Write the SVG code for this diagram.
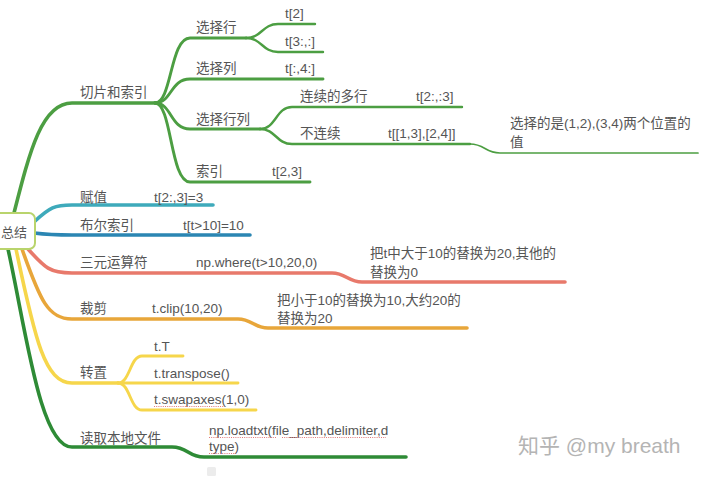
<svg xmlns="http://www.w3.org/2000/svg" width="720" height="478" viewBox="0 0 720 478">
<style>
text{font-family:"Liberation Sans","Noto Sans CJK SC",sans-serif;font-size:13.5px;fill:#555}
.c{fill:none;stroke-linecap:round;stroke-linejoin:round}
.g{stroke:#4c9e42}
.m{stroke-width:3.6}
.s{stroke-width:2.9}
.l{stroke-width:2.4}
.sq{stroke:#e07a7a;stroke-width:1;stroke-dasharray:1 1.2;fill:none}
</style>
<rect width="720" height="478" fill="#ffffff"/>
<g id="connectors">
<path class="c g m" d="M14,213 C 30,150 42,103 72,103 L 156,103"/>
<path class="c g s" d="M155,103 C 172,103 170,38 190,38 L 246,38"/>
<path class="c g s" d="M155,103 C 172,103 170,79 190,79 L 323,79"/>
<path class="c g s" d="M155,103 C 172,103 170,129 190,129 L 260,129"/>
<path class="c g s" d="M155,103 C 172,103 170,182 190,182 L 310,182"/>
<path class="c g l" d="M246,38 C 262,38 262,24 278,24 L 315,24"/>
<path class="c g l" d="M246,38 C 262,38 262,52 278,52 L 323,52"/>
<path class="c g l" d="M260,129 C 276,129 276,107 292,107 L 462,107"/>
<path class="c g l" d="M260,129 C 276,129 276,144 292,144 L 470,144"/>
<path class="c g" stroke-width="1.7" d="M470,144 C 485,144 485,153 500,153 L 698,153"/>
<path class="c m" stroke="#3eaabb" d="M34,222 C 50,207 55,205 72,205 L 213,205"/>
<path class="c m" stroke="#2b86b3" d="M34,233 C 50,235 55,235 72,235 L 250,235"/>
<path class="c m" stroke="#e8796b" d="M28,249 C 45,268 50,273 72,273 L 332,273 C 346,273 348,282 362,282 L 565,282"/>
<path class="c m" stroke="#e8a63a" d="M22,249 C 40,300 48,319 72,319 L 238,319 C 252,319 254,328 268,328 L 467,328"/>
<path class="c m" stroke="#f6d64b" d="M16,249 C 35,340 45,383 72,383 L 118,383"/>
<path class="c s" stroke="#f6d64b" d="M118,383 C 130,383 130,356 142,356 L 183,356"/>
<path class="c s" stroke="#f6d64b" d="M118,383 L 238,383"/>
<path class="c s" stroke="#f6d64b" d="M118,383 C 130,383 130,410 142,410 L 256,410"/>
<path class="c m" stroke="#2e8b36" d="M8,249 C 26,330 40,447 72,447 L 172,447 C 188,447 188,457 204,457 L 406,457"/>
</g>
<g id="root">
<rect x="-10" y="213" width="45" height="36" rx="6" fill="#fff" stroke="#b9d46c" stroke-width="2"/>
<text x="1" y="237" style="font-size:13px">总结</text>
</g>
<g id="n-qiepian"><text x="80" y="97">切片和索引</text></g>
<g id="n-xzh"><text x="196" y="32">选择行</text></g>
<g id="n-t2"><text x="285" y="18">t[2]</text></g>
<g id="n-t3"><text x="285" y="46">t[3:,:]</text></g>
<g id="n-xzl"><text x="196" y="73">选择列</text></g>
<g id="n-t4"><text x="285" y="73">t[:,4:]</text></g>
<g id="n-xzhl"><text x="196" y="124">选择行列</text></g>
<g id="n-lx"><text x="300" y="101">连续的多行</text></g>
<g id="n-t23"><text x="416" y="101">t[2:,:3]</text></g>
<g id="n-blx"><text x="300" y="138">不连续</text></g>
<g id="n-t1324"><text x="388" y="138">t[[1,3],[2,4]]</text></g>
<g id="n-desc1"><text x="510" y="128">选择的是(1,2),(3,4)两个位置的</text><text x="510" y="147">值</text></g>
<g id="n-sy"><text x="196" y="176">索引</text></g>
<g id="n-t2c3"><text x="272" y="176">t[2,3]</text></g>
<g id="n-fz"><text x="80" y="202">赋值</text></g>
<g id="n-fzv"><text x="154" y="202">t[2:,3]=3</text></g>
<g id="n-bool"><text x="80" y="230">布尔索引</text></g>
<g id="n-boolv"><text x="183" y="230">t[t&gt;10]=10</text></g>
<g id="n-sy3"><text x="80" y="267">三元运算符</text></g>
<g id="n-where"><text x="196" y="267">np.where(t&gt;10,20,0)</text></g>
<g id="n-desc2"><text x="370" y="258">把t中大于10的替换为20,其他的</text><text x="370" y="277">替换为0</text></g>
<g id="n-cj"><text x="80" y="313">裁剪</text></g>
<g id="n-clip"><text x="152" y="313">t.clip(10,20)</text></g>
<g id="n-desc3"><text x="277" y="305">把小于10的替换为10,大约20的</text><text x="277" y="323">替换为20</text></g>
<g id="n-zz"><text x="80" y="377">转置</text></g>
<g id="n-tT"><text x="154" y="351">t.T</text></g>
<g id="n-tr"><text x="154" y="378">t.transpose()</text></g>
<g id="n-sw"><text x="154" y="404">t.swapaxes(1,0)</text><path class="sq" d="M154,406.5 L 224,406.5"/></g>
<g id="n-dq"><text x="80" y="443">读取本地文件</text></g>
<g id="n-load"><text x="209" y="435">np.loadtxt(file_path,delimiter,d</text><text x="209" y="451">type)</text>
<path class="sq" d="M209,437.5 L 277,437.5 M282,437.5 L 386,437.5 M209,453.5 L 236,453.5"/></g>
<rect x="207" y="467" width="9" height="9" rx="1.5" fill="#ececec"/>
<text x="518" y="453" style="font-size:21px;fill:#b4b4b4">知乎 @my breath</text>
</svg>
